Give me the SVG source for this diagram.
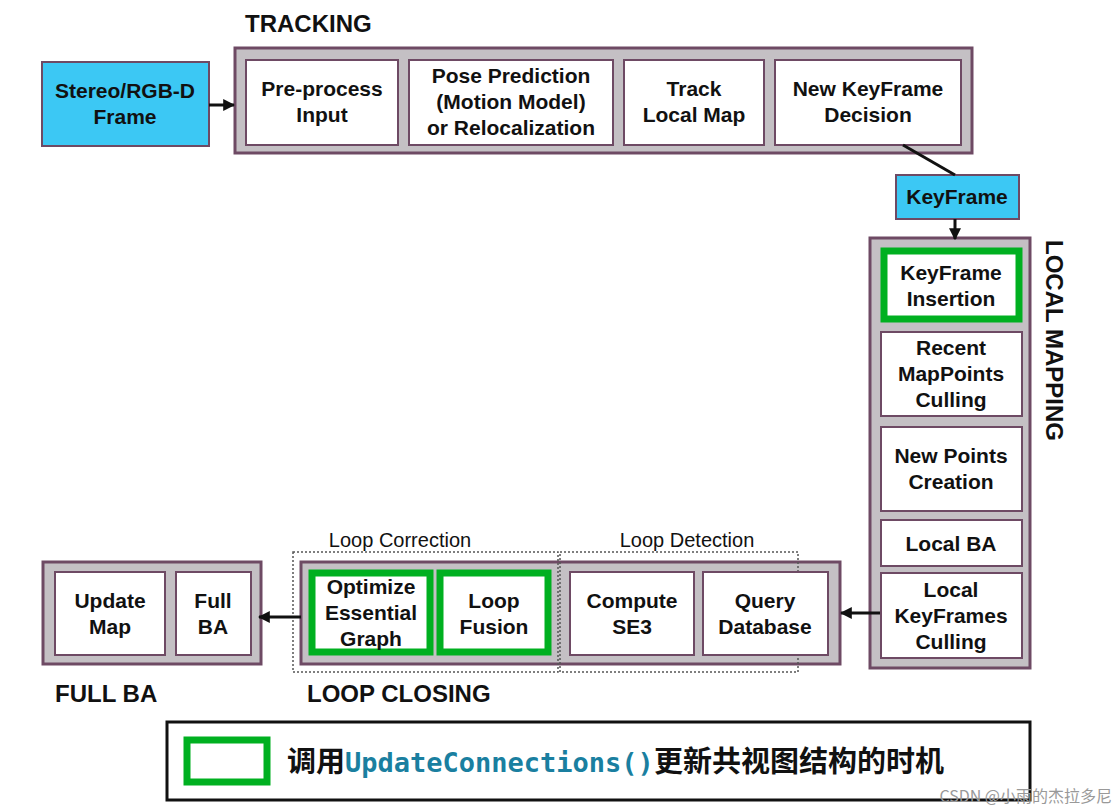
<svg xmlns="http://www.w3.org/2000/svg" width="1118" height="812" viewBox="0 0 1118 812">
<defs>
<style>
.c{fill:#c4c0c4;stroke:#6e4a64;stroke-width:3}
.w{fill:#fff;stroke:#6e4a64;stroke-width:2}
.b{fill:#3cc8f4;stroke:#6e4a64;stroke-width:2}
.g{fill:#fff;stroke:#00b020;stroke-width:7}
.d{fill:none;stroke:#555;stroke-width:1.5;stroke-dasharray:2 2}
text{font-family:"Liberation Sans",Arial,sans-serif;font-weight:bold;font-size:21px;fill:#111;text-anchor:middle}
.t{font-size:24px;text-anchor:start}
.s{font-weight:normal;font-size:20px}
.ln{stroke:#111;stroke-width:3;fill:none}
</style>
<marker id="a" viewBox="0 0 10 10" refX="9" refY="5" markerWidth="4" markerHeight="4" orient="auto"><path d="M0,0L10,5L0,10z" fill="#111"/></marker>
</defs>
<rect width="1118" height="812" fill="#fff"/>
<g id="tracking">
<text class="t" x="245" y="32">TRACKING</text>
<rect class="c" x="235" y="48" width="737" height="105"/>
</g>
<g id="stereo"><rect class="b" x="42" y="62" width="167" height="84"/><text x="125" y="98">Stereo/RGB-D</text><text x="125" y="124">Frame</text></g>
<g id="preprocess"><rect class="w" x="246" y="60" width="152" height="85"/><text x="322" y="96">Pre-process</text><text x="322" y="122">Input</text></g>
<g id="pose"><rect class="w" x="409" y="60" width="204" height="85"/><text x="511" y="83">Pose Prediction</text><text x="511" y="109">(Motion Model)</text><text x="511" y="135">or Relocalization</text></g>
<g id="track"><rect class="w" x="624" y="60" width="140" height="85"/><text x="694" y="96">Track</text><text x="694" y="122">Local Map</text></g>
<g id="newkf"><rect class="w" x="775" y="60" width="186" height="85"/><text x="868" y="96">New KeyFrame</text><text x="868" y="122">Decision</text></g>
<g id="keyframe"><rect class="b" x="896" y="175" width="123" height="44"/><text x="957" y="204">KeyFrame</text></g>
<g id="localmapping">
<rect class="c" x="870" y="238" width="160" height="430"/>
<text class="t" transform="translate(1046,240) rotate(90)">LOCAL MAPPING</text>
</g>
<g id="kfinsert"><rect class="g" x="884" y="251" width="135" height="68"/><text x="951" y="280">KeyFrame</text><text x="951" y="306">Insertion</text></g>
<g id="recent"><rect class="w" x="881" y="332" width="141" height="84"/><text x="951" y="355">Recent</text><text x="951" y="381">MapPoints</text><text x="951" y="407">Culling</text></g>
<g id="newpoints"><rect class="w" x="881" y="427" width="141" height="84"/><text x="951" y="463">New Points</text><text x="951" y="489">Creation</text></g>
<g id="localba"><rect class="w" x="881" y="520" width="141" height="46"/><text x="951" y="551">Local BA</text></g>
<g id="kfculling"><rect class="w" x="881" y="573" width="141" height="85"/><text x="951" y="597">Local</text><text x="951" y="623">KeyFrames</text><text x="951" y="649">Culling</text></g>
<g id="loopclosing">
<rect class="c" x="301" y="562" width="539" height="102"/>
<rect class="d" x="293" y="552" width="265" height="120"/>
<rect class="d" x="560" y="552" width="238" height="120"/>
<text class="s" x="400" y="547">Loop Correction</text>
<text class="s" x="687" y="547">Loop Detection</text>
<text class="t" x="307" y="702">LOOP CLOSING</text>
</g>
<g id="optimize"><rect class="g" x="312" y="573" width="118" height="79"/><text x="371" y="594">Optimize</text><text x="371" y="620">Essential</text><text x="371" y="646">Graph</text></g>
<g id="fusion"><rect class="g" x="440" y="573" width="108" height="79"/><text x="494" y="608">Loop</text><text x="494" y="634">Fusion</text></g>
<g id="compute"><rect class="w" x="570" y="572" width="124" height="83"/><text x="632" y="608">Compute</text><text x="632" y="634">SE3</text></g>
<g id="query"><rect class="w" x="703" y="572" width="125" height="83"/><text x="765" y="608">Query</text><text x="765" y="634">Database</text></g>
<g id="fullba">
<rect class="c" x="43" y="562" width="218" height="102"/>
<text class="t" x="55" y="702">FULL BA</text>
</g>
<g id="updatemap"><rect class="w" x="55" y="572" width="110" height="83"/><text x="110" y="608">Update</text><text x="110" y="634">Map</text></g>
<g id="fullbabox"><rect class="w" x="176" y="572" width="75" height="83"/><text x="213" y="608">Full</text><text x="213" y="634">BA</text></g>
<g id="connectors">
<path class="ln" d="M209,105H234" marker-end="url(#a)"/>
<path class="ln" d="M903,145L955,175"/>
<path class="ln" d="M955,219V239" marker-end="url(#a)"/>
<path class="ln" d="M880,613H841" marker-end="url(#a)"/>
<path class="ln" d="M301,617H259" marker-end="url(#a)"/>
</g>
<g id="legend">
<rect x="167" y="722" width="863" height="78" fill="#fff" stroke="#111" stroke-width="3"/>
<rect x="187" y="740" width="80" height="42" fill="#fff" stroke="#00b020" stroke-width="7"/>
<text x="287" y="772" style="text-anchor:start;font-size:29px;font-family:'Noto Sans CJK SC',sans-serif">调用<tspan fill="#1a7fa0" style="font-family:'DejaVu Sans Mono',monospace;font-size:27px">UpdateConnections()</tspan>更新共视图结构的时机</text>
</g>
<text x="1112" y="802" style="text-anchor:end;font-weight:normal;font-size:16px;fill:#999;font-family:'Noto Sans CJK SC',sans-serif">CSDN @小雨的杰拉多尼</text>
</svg>
